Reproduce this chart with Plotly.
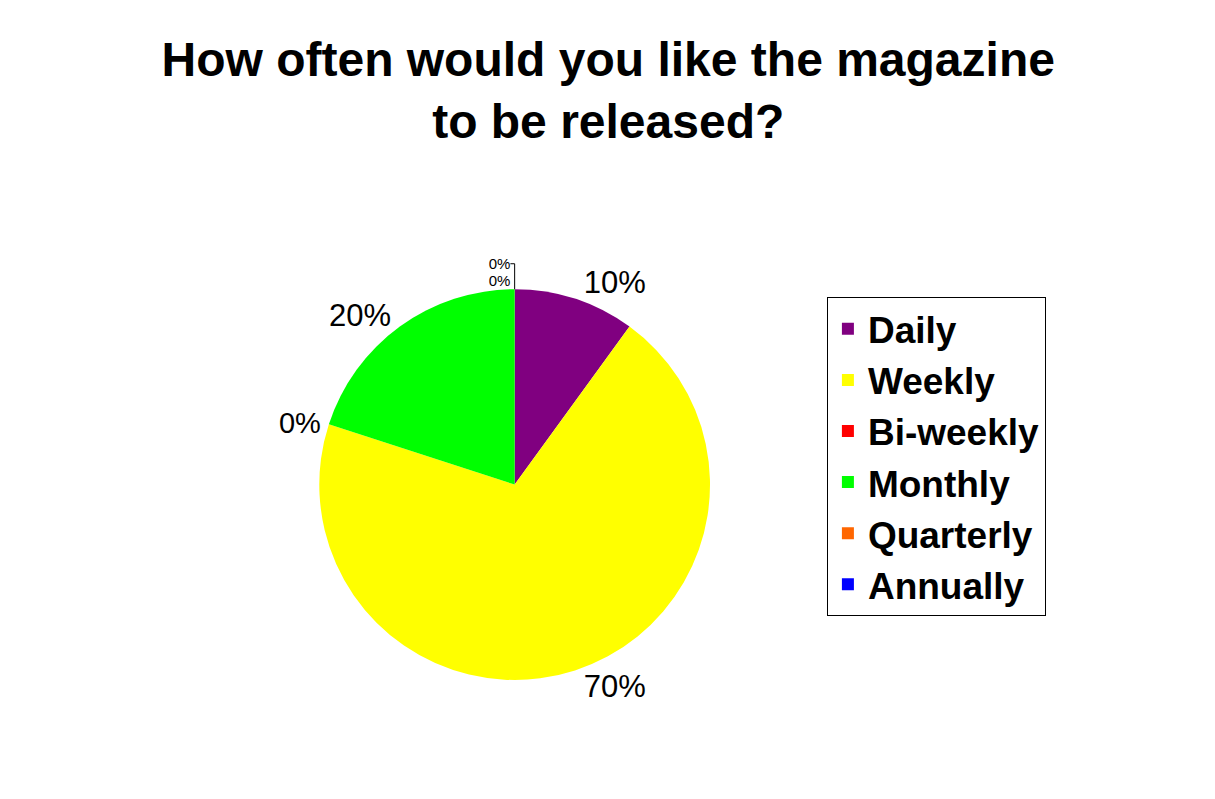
import plotly.graph_objects as go

labels = ['Daily', 'Weekly', 'Bi-weekly', 'Monthly', 'Quarterly', 'Annually']
values = [10, 70, 0, 20, 0, 0]
colors = ['#800080', '#FFFF00', '#FF0000', '#00FF00', '#FF6600', '#0000FF']
label_sizes = [31, 31, 29, 31, 15, 15]

fig = go.Figure()
fig.add_trace(go.Pie(labels=labels, values=values, sort=False, direction='clockwise',
                     rotation=0, marker=dict(colors=colors, line=dict(width=0)),
                     texttemplate='%{percent:.0%}', textposition='outside',
                     outsidetextfont=dict(size=label_sizes, color='black',
                                          family='Liberation Sans, Arial, sans-serif'),
                     domain=dict(x=[0.256, 0.578], y=[0.159, 0.648]),
                     hoverinfo='label+percent'))

fig.update_layout(width=1215, height=799, margin=dict(l=0, r=0, t=0, b=0),
                  paper_bgcolor='white', plot_bgcolor='white',
                  font=dict(family='Liberation Sans, Arial, sans-serif', color='black'),
                  title=dict(text='<b>How often would you like the magazine<br>to be released?</b>',
                             x=0.494, xanchor='center', y=0.915, yanchor='middle',
                             font=dict(size=48, color='black')),
                  legend=dict(x=0.674, y=0.638, xanchor='left', yanchor='top',
                              bordercolor='black', borderwidth=1, bgcolor='white',
                              font=dict(size=37, color='black',
                                        family='Liberation Sans, Arial, sans-serif',
                                        weight='bold'),
                              traceorder='normal'))

fig.write_html("out.html")
